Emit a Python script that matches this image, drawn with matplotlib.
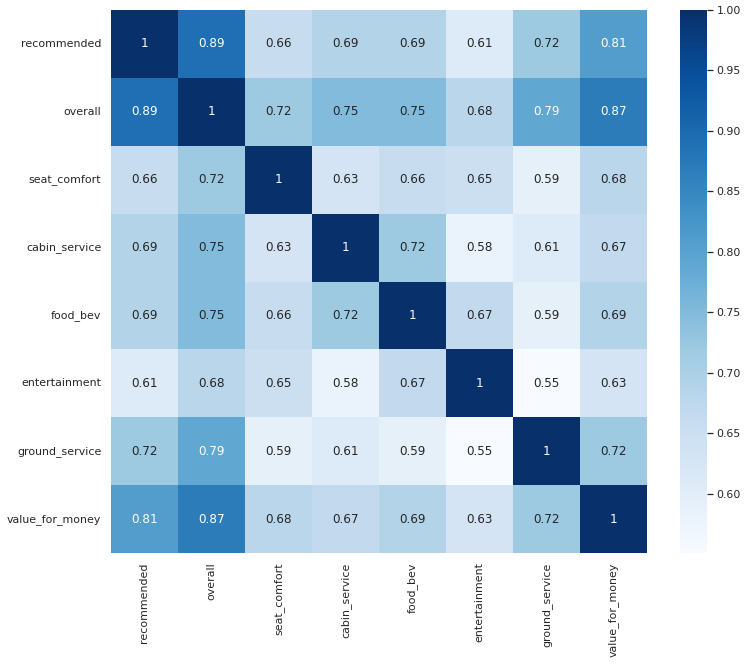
import numpy as np
import pandas as pd
import matplotlib
matplotlib.use("Agg")
import matplotlib.pyplot as plt
import seaborn as sns

cols = ["recommended", "overall", "seat_comfort", "cabin_service",
        "food_bev", "entertainment", "ground_service", "value_for_money"]

corr_vals = [
    [1.000, 0.890, 0.660, 0.690, 0.690, 0.610, 0.720, 0.810],
    [0.890, 1.000, 0.720, 0.750, 0.750, 0.680, 0.790, 0.870],
    [0.660, 0.720, 1.000, 0.630, 0.660, 0.650, 0.590, 0.680],
    [0.690, 0.750, 0.630, 1.000, 0.720, 0.580, 0.610, 0.670],
    [0.690, 0.750, 0.660, 0.720, 1.000, 0.670, 0.590, 0.690],
    [0.610, 0.680, 0.650, 0.580, 0.670, 1.000, 0.551, 0.630],
    [0.720, 0.790, 0.590, 0.610, 0.590, 0.551, 1.000, 0.720],
    [0.810, 0.870, 0.680, 0.670, 0.690, 0.630, 0.720, 1.000],
]
cbar_ticks = [0.60, 0.65, 0.70, 0.75, 0.80, 0.85, 0.90, 0.95, 1.00]
corr = pd.DataFrame(corr_vals, index=cols, columns=cols)

sns.set_theme()
fig = plt.figure(figsize=(748 / 72, 665 / 72), dpi=72)
W, H = 748, 665
ax = fig.add_axes([111 / W, 1 - 553 / H, 536 / W, 543 / H])
cax = fig.add_axes([680 / W, 1 - 553 / H, 27 / W, 543 / H])

sns.heatmap(corr, annot=True, cmap="Blues", ax=ax, cbar_ax=cax,
            cbar_kws={"ticks": cbar_ticks})
cax.set_yticklabels([f"{t:.2f}" for t in cbar_ticks])
ax.tick_params(axis="x", rotation=90)
ax.tick_params(axis="y", rotation=0)

fig.savefig("out.png", dpi=72)
